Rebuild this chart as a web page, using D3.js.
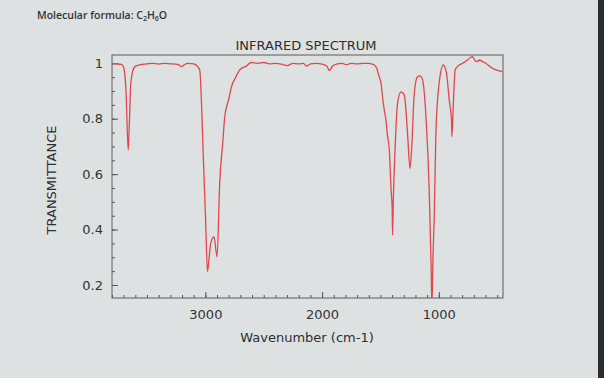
<!DOCTYPE html>
<html>
<head>
<meta charset="utf-8">
<script src="https://cdn.jsdelivr.net/npm/d3@7"></script>
<style>
  body { margin: 0; background: #dde1e2; }
  svg { display: block; }
</style>
</head>
<body>
<svg id="chart" width="604" height="378"></svg>
<script>
// spectrum: wavenumber (cm-1) and transmittance
var wavenumbers = [3800, 3760, 3720, 3700, 3680, 3661, 3650, 3640, 3620, 3603, 3560, 3500, 3450, 3400, 3350, 3300, 3262, 3230, 3204, 3180, 3150, 3100, 3070, 3048, 3030, 3020, 2999, 2982, 2970, 2954, 2926, 2900, 2877, 2850, 2834, 2800, 2777, 2740, 2706, 2650, 2606, 2550, 2500, 2450, 2400, 2350, 2296, 2250, 2200, 2160, 2133, 2100, 2050, 2000, 1960, 1937, 1910, 1870, 1830, 1791, 1750, 1700, 1650, 1600, 1552, 1530, 1510, 1495, 1480, 1467, 1453, 1440, 1424, 1409, 1400, 1396, 1390, 1375, 1353, 1324, 1296, 1268, 1247, 1230, 1210, 1182, 1160, 1139, 1110, 1082, 1065, 1059, 1050, 1039, 1025, 997, 962, 934, 911, 891, 888, 874, 860, 840, 797, 760, 726, 712, 690, 669, 655, 620, 597, 541, 500, 456];
var transmittance = [1.000, 0.998, 0.996, 0.985, 0.900, 0.687, 0.800, 0.920, 0.975, 0.988, 0.995, 0.998, 1.000, 0.997, 1.000, 0.998, 0.997, 0.995, 0.988, 0.995, 1.000, 0.998, 0.990, 0.975, 0.820, 0.690, 0.450, 0.248, 0.290, 0.350, 0.374, 0.302, 0.568, 0.720, 0.807, 0.870, 0.915, 0.950, 0.976, 0.990, 1.003, 1.000, 1.003, 0.998, 1.000, 0.997, 0.992, 1.000, 0.998, 1.000, 0.990, 0.998, 1.000, 0.997, 0.990, 0.974, 0.990, 0.998, 1.000, 0.995, 1.000, 0.998, 1.000, 1.000, 0.994, 0.980, 0.950, 0.928, 0.870, 0.831, 0.795, 0.740, 0.687, 0.543, 0.482, 0.380, 0.500, 0.687, 0.857, 0.897, 0.886, 0.748, 0.620, 0.712, 0.893, 0.952, 0.955, 0.940, 0.807, 0.540, 0.250, 0.120, 0.300, 0.446, 0.748, 0.929, 0.994, 0.965, 0.868, 0.795, 0.735, 0.868, 0.976, 0.988, 1.000, 1.010, 1.022, 1.024, 1.010, 1.006, 1.012, 1.005, 1.000, 0.982, 0.975, 0.970];

var xMajorTicks = [3000, 2000, 1000];
var yMajorTicks = [0.2, 0.4, 0.6, 0.8, 1];
var titleText = "INFRARED SPECTRUM";
var xLabel = "Wavenumber (cm-1)";
var yLabel = "TRANSMITTANCE";

var svg = d3.select("#chart");
var plotLeft = 112, plotRight = 503, plotTop = 55, plotBottom = 298;
var font = "'DejaVu Sans', Verdana, sans-serif";

var xScale = d3.scaleLinear().domain([3800, 450]).range([plotLeft, plotRight]);
var yScale = d3.scaleLinear().domain([0.153, 1.03]).range([plotBottom, plotTop]);

// dark screen edge on the right
svg.append("rect").attr("x", 598).attr("y", 0).attr("width", 6).attr("height", 378).attr("fill", "#2b2c30");

// molecular formula note
var formula = svg.append("text").attr("x", 37).attr("y", 19)
  .attr("font-family", "'Open Sans', sans-serif").attr("font-size", 10.5).attr("font-weight", 600).attr("fill", "#333");
formula.append("tspan").text("Molecular formula: C");
formula.append("tspan").attr("font-size", 7).attr("dy", 2).text("2");
formula.append("tspan").attr("dy", -2).text("H");
formula.append("tspan").attr("font-size", 7).attr("dy", 2).text("6");
formula.append("tspan").attr("dy", -2).text("O");

// title
svg.append("text").attr("x", 306).attr("y", 50).attr("text-anchor", "middle")
  .attr("font-family", font).attr("font-size", 13).attr("fill", "#2e2e2e").text(titleText);

// minor ticks
var xMinor = d3.range(3800, 449, -100);
var yMinor = d3.range(0.2, 1.001, 0.05);
svg.append("g").attr("transform", "translate(0," + plotBottom + ")")
  .call(d3.axisBottom(xScale).tickValues(xMinor).tickSize(-3).tickFormat(""))
  .call(g => g.select(".domain").remove())
  .call(g => g.selectAll("line").attr("stroke", "#555"));
svg.append("g").attr("transform", "translate(" + plotLeft + ",0)")
  .call(d3.axisLeft(yScale).tickValues(yMinor).tickSize(-3).tickFormat(""))
  .call(g => g.select(".domain").remove())
  .call(g => g.selectAll("line").attr("stroke", "#555"));

// major ticks with labels
var xAxis = svg.append("g").attr("transform", "translate(0," + plotBottom + ")")
  .call(d3.axisBottom(xScale).tickValues(xMajorTicks).tickSize(-6).tickPadding(12).tickFormat(d3.format("d")));
xAxis.select(".domain").remove();
xAxis.selectAll("line").attr("stroke", "#555");
xAxis.selectAll("text").attr("font-family", font).attr("font-size", 13).attr("fill", "#333");

var yAxis = svg.append("g").attr("transform", "translate(" + plotLeft + ",0)")
  .call(d3.axisLeft(yScale).tickValues(yMajorTicks).tickSize(-6).tickPadding(9).tickFormat(d => String(+d.toFixed(1))));
yAxis.select(".domain").remove();
yAxis.selectAll("line").attr("stroke", "#555");
yAxis.selectAll("text").attr("font-family", font).attr("font-size", 13).attr("fill", "#333");

// frame
svg.append("rect").attr("x", plotLeft).attr("y", plotTop).attr("width", plotRight - plotLeft).attr("height", plotBottom - plotTop)
  .attr("fill", "none").attr("stroke", "#5a5a5a").attr("stroke-width", 1);

// axis labels
svg.append("text").attr("x", 307).attr("y", 342).attr("text-anchor", "middle")
  .attr("font-family", font).attr("font-size", 13).attr("fill", "#2e2e2e").text(xLabel);
svg.append("text").attr("transform", "translate(56,180) rotate(-90)").attr("text-anchor", "middle")
  .attr("font-family", font).attr("font-size", 13).attr("fill", "#2e2e2e").text(yLabel);

// spectrum
svg.append("clipPath").attr("id", "plotClip").append("rect")
  .attr("x", plotLeft).attr("y", plotTop).attr("width", plotRight - plotLeft).attr("height", plotBottom - plotTop);

var points = wavenumbers.map((w, i) => [w, transmittance[i]]);
var line = d3.line().x(d => xScale(d[0])).y(d => yScale(d[1])).curve(d3.curveMonotoneX);
svg.append("path").datum(points).attr("clip-path", "url(#plotClip)")
  .attr("d", line).attr("fill", "none").attr("stroke", "#e0474c").attr("stroke-width", 1.3);
</script>
</body>
</html>
